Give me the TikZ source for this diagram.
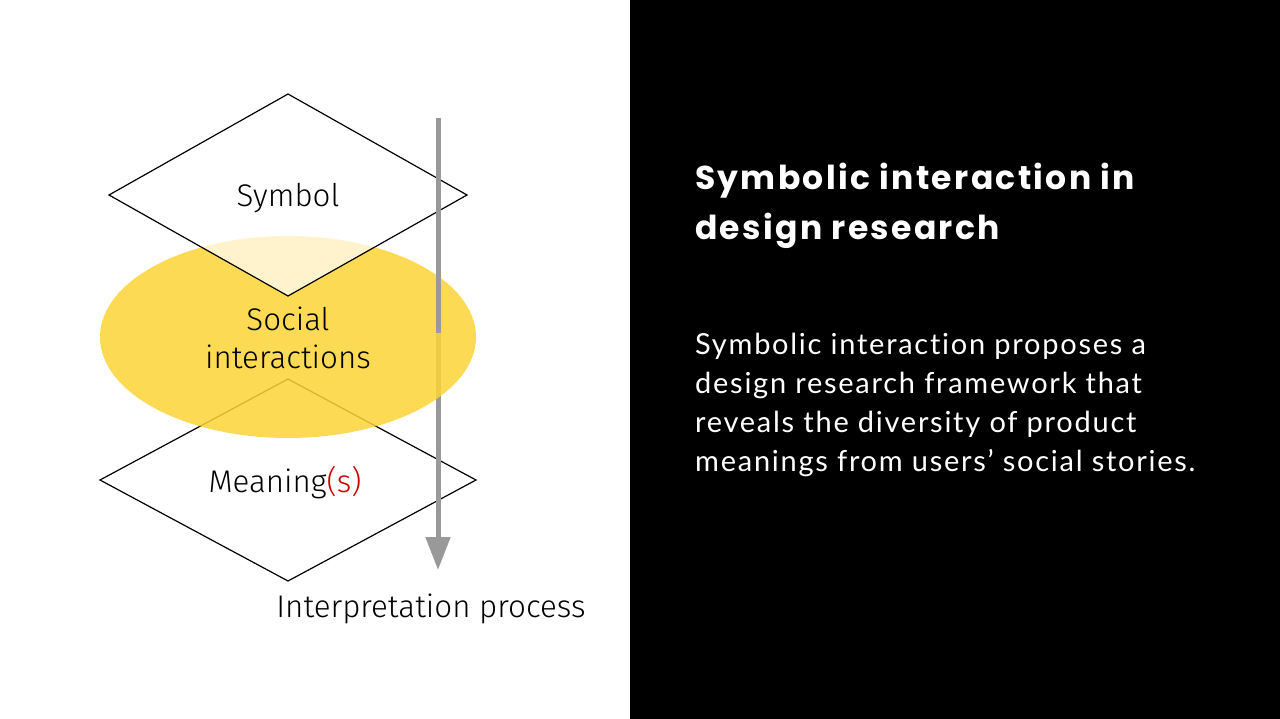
\documentclass[tikz,border=0pt]{standalone}
\usepackage{fontspec}
\setmainfont{Lato}[Ligatures={NoCommon}, LetterSpace=6]
\newfontfamily\lightfont{Fira Sans}[UprightFont={* Light}]
\newfontfamily\titlefont{Poppins}[UprightFont={* Bold}, LetterSpace=7]
\usetikzlibrary{shapes.geometric,arrows.meta}
\definecolor{ellyellow}{RGB}{253,212,55}
\definecolor{arrowgray}{RGB}{153,153,153}
\definecolor{sred}{RGB}{204,0,0}
\tikzset{
  layer/.style={diamond, draw=black, line width=1.2pt, minimum width=358pt, minimum height=202pt, inner sep=0pt, outer sep=0pt},
  lbl/.style={font=\lightfont\fontsize{31.3}{39}\selectfont, text=black, align=center, inner sep=0pt, anchor=base},
  flow/.style={draw=arrowgray, line width=5pt},
}
\begin{document}
\begin{tikzpicture}[x=1pt,y=-1pt]
\useasboundingbox (0,0) rectangle (1280,719);
\fill[white] (0,0) rectangle (630,719);
\fill[black] (630,0) rectangle (1280,719);
% bottom diamond
\node[layer, minimum width=376pt, minimum height=202pt] (meaning) at (288,480) {};
% full arrow
\coordinate (astart) at (438,118);
\coordinate (aend) at (438,570);
\coordinate (amid) at (438,333);
\draw[flow, -{Triangle[width=24pt,length=33pt]}] (astart) -- (aend);
% ellipse
\node[ellipse, fill=ellyellow, fill opacity=0.85, minimum width=376pt, minimum height=202pt, inner sep=0pt] (social) at (288,337) {};
% top diamond
\node[layer, fill=white, fill opacity=0.7, draw opacity=1] (symbol) at (288,195) {};
\draw[flow] (astart) -- (amid);
% labels
\node[lbl] (tsymbol) at (288,207) {Symbol};
\node[lbl] (tsocial) at (288,369) {Social\\interactions};
\node[lbl] (tmeaning) at (285,492) {Meaning\textcolor{sred}{(s)}};
\node[lbl] (tinterp) at (431,617) {Interpretation process};
% right text
\node[anchor=base west, text=white, font=\titlefont\fontsize{33}{50}\selectfont, align=left, inner sep=0pt] (title) at (695,240) {Symbolic interaction in\\design research};
\node[anchor=base west, text=white, font=\fontsize{29}{38.7}\selectfont, align=left, inner sep=0pt] (body) at (695,471) {Symbolic interaction proposes a\\design research framework that\\reveals the diversity of product\\meanings from users’ social stories.};
\end{tikzpicture}
\end{document}
